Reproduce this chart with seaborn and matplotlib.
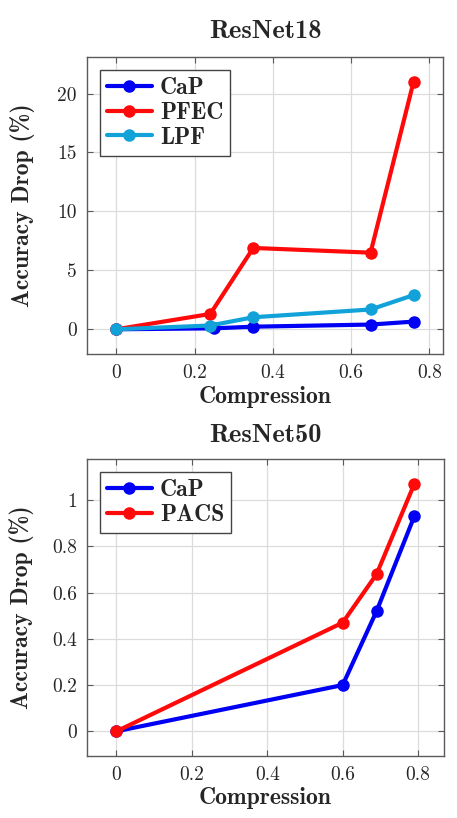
import numpy as np
import pandas as pd
import matplotlib
matplotlib.use("Agg")
import matplotlib.pyplot as plt
from matplotlib.ticker import FuncFormatter, MultipleLocator
import seaborn as sns

# ---- data: ResNet18 ----
r18_methods = ["CaP", "PFEC", "LPF"]
r18_cap_x = [0.0, 0.25, 0.35, 0.65, 0.76]
r18_cap_y = [0.0, 0.08, 0.22, 0.40, 0.65]
r18_pfec_x = [0.0, 0.24, 0.35, 0.65, 0.76]
r18_pfec_y = [0.0, 1.3, 6.9, 6.5, 21.0]
r18_lpf_x = [0.0, 0.24, 0.35, 0.65, 0.76]
r18_lpf_y = [0.0, 0.32, 1.02, 1.68, 2.9]

# ---- data: ResNet50 ----
r50_methods = ["CaP", "PACS"]
r50_cap_x = [0.0, 0.60, 0.69, 0.79]
r50_cap_y = [0.0, 0.20, 0.52, 0.93]
r50_pacs_x = [0.0, 0.60, 0.69, 0.79]
r50_pacs_y = [0.0, 0.47, 0.68, 1.07]

COLORS = {"CaP": "#0000F5", "PFEC": "#FF0A0A", "LPF": "#10A2D8", "PACS": "#FF0A0A"}

sns.set_style("whitegrid")
plt.rcParams["font.family"] = ["cmr10", "DejaVu Serif"]
plt.rcParams["axes.unicode_minus"] = False
plt.rcParams["axes.formatter.use_mathtext"] = False

BOLD = ["cmb10", "DejaVu Serif"]
FRAME = "#5a5a5a"


def long_frame(names, xs, ys):
    rows = []
    for n, x, y in zip(names, xs, ys):
        for a, b in zip(x, y):
            rows.append({"method": n, "x": a, "y": b})
    return pd.DataFrame(rows)


def style_axes(ax, title, ystep, title_y, xlab_y):
    ax.set_title(title, fontfamily=BOLD, fontsize=19, pad=0, y=title_y, va="center")
    ax.set_xlabel("Compression", fontfamily=BOLD, fontsize=17)
    ax.set_ylabel("Accuracy Drop (%)", fontfamily=BOLD, fontsize=17)
    ax.xaxis.set_label_coords(0.5, xlab_y)
    ax.yaxis.set_label_coords(-0.181, 0.5)
    ax.xaxis.label.set_va("center")
    ax.yaxis.label.set_va("center")
    ax.xaxis.set_major_locator(MultipleLocator(0.2))
    ax.yaxis.set_major_locator(MultipleLocator(ystep))
    fmt = FuncFormatter(lambda v, p: f"{v:g}" if abs(v) > 1e-9 else "0")
    ax.xaxis.set_major_formatter(fmt)
    ax.yaxis.set_major_formatter(fmt)
    ax.tick_params(direction="in", length=4, width=0.8, color=FRAME,
                   top=True, right=True, bottom=True, left=True,
                   labelsize=14, pad=7)
    ax.grid(True, color="#dcdcdc", linewidth=0.9)
    for s in ax.spines.values():
        s.set_color(FRAME)
        s.set_linewidth(1.0)
    leg = ax.legend(loc="upper left", bbox_to_anchor=(0.0, 1.0),
                    borderaxespad=0.55, fancybox=False, framealpha=1,
                    edgecolor="#444444", handlelength=1.9, handletextpad=0.35,
                    labelspacing=0.12, borderpad=0.3,
                    prop={"family": BOLD, "size": 17})
    leg.get_frame().set_linewidth(1.0)


fig = plt.figure(figsize=(4.57, 8.18), dpi=100)
ax1 = fig.add_axes([0.1897, 0.5672, 0.7803, 0.3631])
ax2 = fig.add_axes([0.1897, 0.0758, 0.7820, 0.3627])

df18 = long_frame(r18_methods, [r18_cap_x, r18_pfec_x, r18_lpf_x],
                  [r18_cap_y, r18_pfec_y, r18_lpf_y])
sns.lineplot(data=df18, x="x", y="y", hue="method", hue_order=r18_methods,
             palette=COLORS, marker="o", markersize=9, markeredgewidth=0,
             linewidth=3, sort=False, ax=ax1)
ax1.set_xlim(-0.076, 0.836)
ax1.set_ylim(-2.1, 23.1)
style_axes(ax1, "ResNet18", 5, 1.085, -0.145)

df50 = long_frame(r50_methods, [r50_cap_x, r50_pacs_x], [r50_cap_y, r50_pacs_y])
sns.lineplot(data=df50, x="x", y="y", hue="method", hue_order=r50_methods,
             palette=COLORS, marker="o", markersize=9, markeredgewidth=0,
             linewidth=3, sort=False, ax=ax2)
ax2.set_xlim(-0.079, 0.869)
ax2.set_ylim(-0.107, 1.177)
style_axes(ax2, "ResNet50", 0.2, 1.081, -0.142)

fig.savefig("out.png", dpi=100)
